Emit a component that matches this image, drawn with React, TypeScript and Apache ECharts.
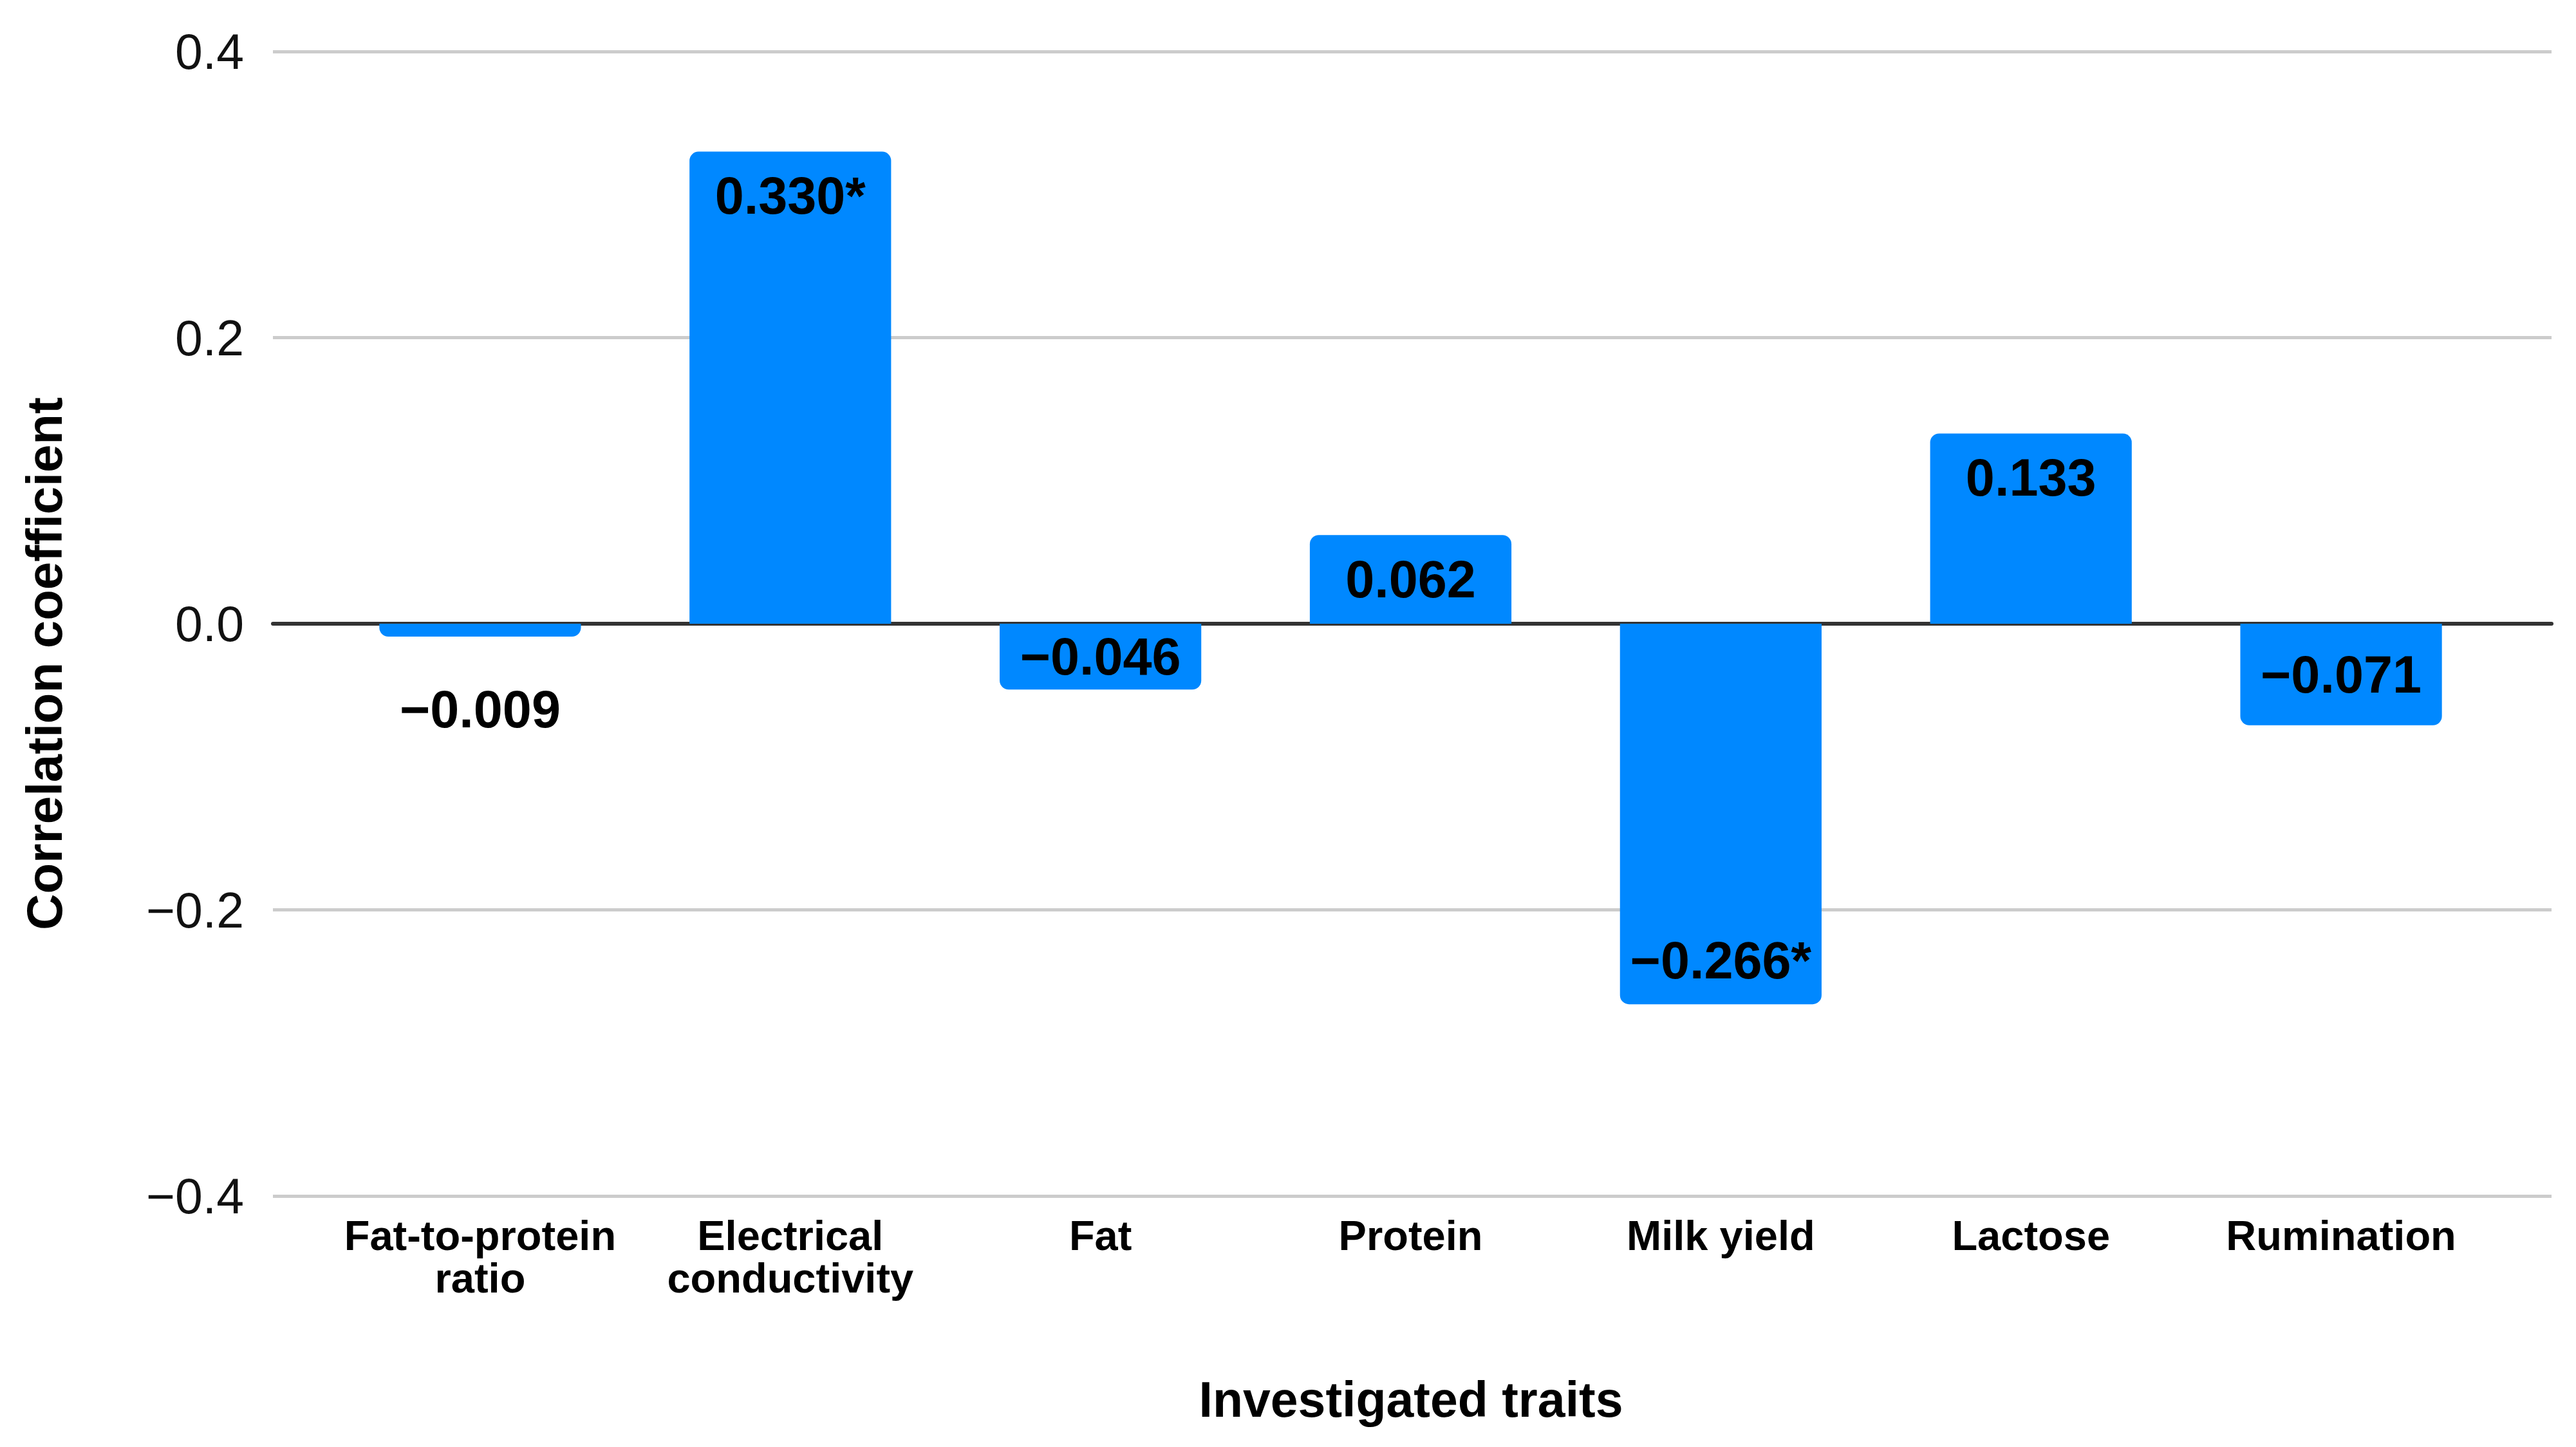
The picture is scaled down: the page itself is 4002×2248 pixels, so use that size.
import React, { useEffect, useRef } from "react";
import * as echarts from "echarts";

// Correlation of each investigated trait with the target variable
const categories = [
  "Fat-to-protein\nratio",
  "Electrical\nconductivity",
  "Fat",
  "Protein",
  "Milk yield",
  "Lactose",
  "Rumination",
];
const coefficients = [-0.009, 0.33, -0.046, 0.062, -0.266, 0.133, -0.071];
// "*" marks a significant coefficient
const significance = ["", "*", "", "", "*", "", ""];
const yTicks = [-0.4, -0.2, 0.0, 0.2, 0.4];

const FONT = "'Liberation Sans', Arial, sans-serif";
const BAR_COLOR = "#0088ff";
const MINUS = "\u2212";

const fmt = (v: number, digits: number) => {
  const s = Math.abs(v).toFixed(digits);
  return v < 0 && Number(s) !== 0 ? MINUS + s : s;
};

export default function App() {
  const ref = useRef<HTMLDivElement>(null);

  useEffect(() => {
    if (!ref.current) return;
    const chart = echarts.init(ref.current, undefined, { renderer: "svg" });

    const yMin = yTicks[0];
    const yMax = yTicks[yTicks.length - 1];
    const yStep = yTicks[1] - yTicks[0];

    const barData = coefficients.map((v, i) => {
      const abs = Math.abs(v);
      let position: string;
      let distance = 28;
      if (abs < 0.02) {
        position = v < 0 ? "bottom" : "top";
        distance = 72;
      } else if (abs < 0.1) {
        position = "inside";
      } else {
        position = v < 0 ? "insideBottom" : "insideTop";
      }
      return {
        value: v,
        itemStyle: {
          color: BAR_COLOR,
          borderRadius: v < 0 ? [0, 0, 14, 14] : [14, 14, 0, 0],
        },
        label: {
          show: true,
          position,
          distance,
          formatter: () => fmt(v, 3) + significance[i],
        },
      };
    });

    chart.setOption({
      animation: false,
      backgroundColor: "#ffffff",
      textStyle: { fontFamily: FONT },
      grid: [
        // full-width grid carrying the gridlines, the y labels and the zero line
        { left: 424, right: 38, top: 80, bottom: 390, containLabel: false },
        // inner grid holding the bars and category labels
        { left: 505, right: 124, top: 80, bottom: 390, containLabel: false },
      ],
      xAxis: [
        {
          gridIndex: 0,
          type: "category",
          data: [""],
          axisLine: { show: true, onZero: true, lineStyle: { color: "#333333", width: 6 } },
          axisTick: { show: false },
          axisLabel: { show: false },
          splitLine: { show: false },
        },
        {
          gridIndex: 1,
          type: "category",
          data: categories,
          axisLine: { show: false },
          axisTick: { show: false },
          axisLabel: {
            show: true,
            interval: 0,
            margin: 28,
            color: "#000000",
            fontFamily: FONT,
            fontWeight: "bold",
            fontSize: 65,
            lineHeight: 66,
          },
        },
      ],
      yAxis: [
        {
          gridIndex: 0,
          type: "value",
          min: yMin,
          max: yMax,
          interval: yStep,
          axisLine: { show: false },
          axisTick: { show: false },
          axisLabel: {
            margin: 45,
            color: "#111111",
            fontFamily: FONT,
            fontSize: 77,
            formatter: (v: number) => fmt(v, 1),
          },
          splitLine: { show: true, lineStyle: { color: "#cccccc", width: 5 } },
        },
        {
          gridIndex: 1,
          type: "value",
          min: yMin,
          max: yMax,
          interval: yStep,
          show: false,
          splitLine: { show: false },
        },
      ],
      series: [
        {
          type: "bar",
          xAxisIndex: 1,
          yAxisIndex: 1,
          data: barData,
          barWidth: "65%",
          label: {
            color: "#000000",
            fontFamily: FONT,
            fontWeight: "bold",
            fontSize: 81,
          },
        },
      ],
      graphic: [
        {
          type: "text",
          x: 69,
          y: 1031,
          rotation: Math.PI / 2,
          style: {
            text: "Correlation coefficient",
            fontFamily: FONT,
            fontWeight: "bold",
            fontSize: 78,
            fill: "#000000",
            align: "center",
            verticalAlign: "middle",
          },
        },
        {
          type: "text",
          x: 2192,
          y: 2174,
          style: {
            text: "Investigated traits",
            fontFamily: FONT,
            fontWeight: "bold",
            fontSize: 77,
            fill: "#000000",
            align: "center",
            verticalAlign: "middle",
          },
        },
      ],
    });

    return () => chart.dispose();
  }, []);

  return (
    <div
      ref={ref}
      style={{ position: "fixed", left: 0, top: 0, width: 4002, height: 2248, background: "#ffffff" }}
    />
  );
}
